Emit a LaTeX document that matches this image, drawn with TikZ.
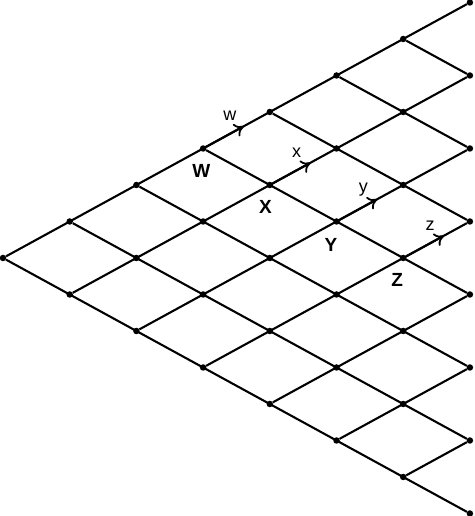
\documentclass[tikz,border=0pt]{standalone}
\usepackage{fontspec}
\setmainfont{Liberation Sans}
\usetikzlibrary{arrows.meta}

\tikzset{
  dot/.style={circle, fill=black, inner sep=0pt, minimum size=6.5pt},
  grade/.style={line width=2.1pt},
  pfeil/.style={grade, -{To[length=9pt,width=14pt,line width=1.8pt]}},
  vlabel/.style={font=\fontsize{19}{21}\selectfont\bfseries, inner sep=0pt, anchor=west},
  elabel/.style={font=\fontsize{18}{20}\selectfont, inner sep=0pt}
}

\begin{document}
\begin{tikzpicture}[x=1pt, y=1pt]
\useasboundingbox (0,0) rectangle (474,516);

% Knoten des Gitters
\foreach \a in {0,...,7}{
  \pgfmathtruncatemacro{\bmax}{7-\a}
  \foreach \b in {0,...,\bmax}
    \node[dot] (n-\a-\b) at ({3+66.7*(\a+\b)}, {258+36.5*(\a-\b)}) {};
}

% Linien nach rechts unten und nach rechts oben
\foreach \a in {0,...,6}{
  \pgfmathtruncatemacro{\bmax}{7-\a}
  \draw[grade] (n-\a-0) -- (n-\a-\bmax);
  \draw[grade] (n-0-\a) -- (n-\bmax-\a);
}

% Pfeile auf den Kanten w, x, y, z
\foreach \b/\l in {0/w,1/x,2/y,3/z}{
  \path (n-3-\b) -- node[elabel, pos=0.41, yshift=17pt, xshift=-1pt] (e-\l) {\l}
    coordinate[pos=0.62] (t-\l) (n-4-\b);
  \draw[pfeil] (n-3-\b) -- (t-\l);
}

% Namen der Knoten
\node[vlabel, xshift=-11pt, yshift=-22pt] (lW) at (n-3-0) {W};
\node[vlabel, xshift=-11pt, yshift=-22pt] (lX) at (n-3-1) {X};
\node[vlabel, xshift=-12pt, yshift=-23pt] (lY) at (n-3-2) {Y};
\node[vlabel, xshift=-12pt, yshift=-22pt] (lZ) at (n-3-3) {Z};

\end{tikzpicture}
\end{document}
